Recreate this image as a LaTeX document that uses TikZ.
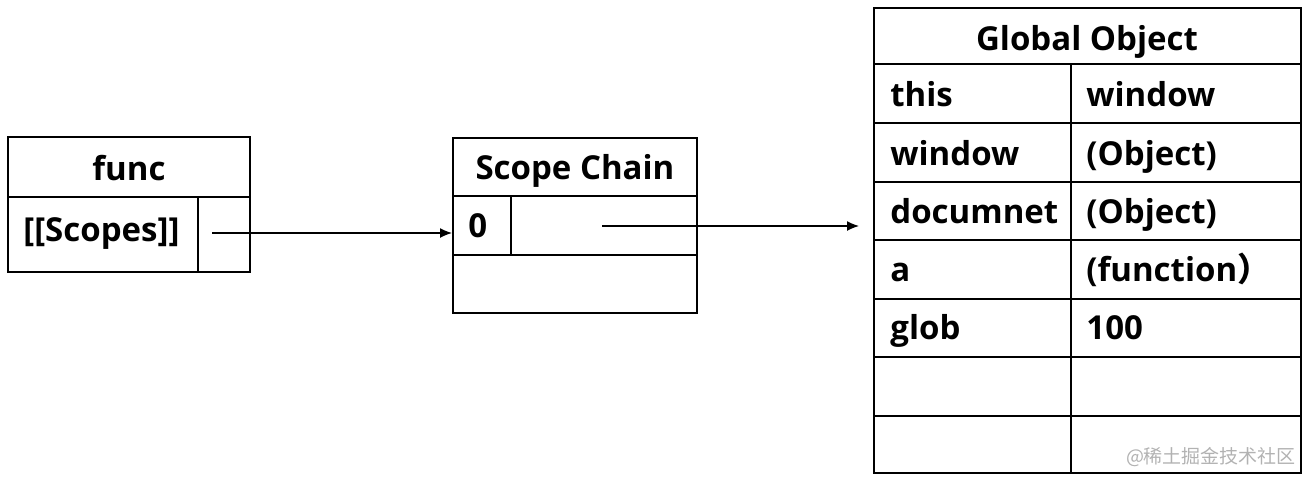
\documentclass[tikz,border=0pt]{standalone}
\usepackage{fontspec}
\setmainfont{Open Sans}
\newfontfamily\cjk{Noto Sans CJK SC}
\usetikzlibrary{arrows.meta}
\tikzset{
	box/.style={line width=1pt},
	cell/.style={anchor=base west, inner sep=0pt, font=\fontsize{16.5}{20}\selectfont\bfseries},
	title/.style={anchor=base, inner sep=0pt, font=\fontsize{16.5}{20}\selectfont\bfseries},
	ptr/.style={line width=0.65pt, -{Latex[length=6pt,width=5pt]}},
	watermark/.style={inner sep=0pt, text=black!30, font=\cjk\fontsize{9.5}{11}\selectfont},
}

\begin{document}
\begin{tikzpicture}[x=0.5pt,y=-0.5pt]
		%%%%% START %%%%%
		\useasboundingbox (0,0) rectangle (1308,483);
		
		% func
		\draw[box] (8,137) rectangle (250,272);
		\draw[box] (8,197) -- (250,197);
		\draw[box] (198,197) -- (198,272);
		\node[title] (func) at (129,180) {func};
		\node[cell] (scopes) at (23,241) {[[Scopes]]};
		\coordinate (funcptr) at (212,233);
		
		% scope chain
		\draw[box] (453,138) rectangle (697,313);
		\draw[box] (453,196) -- (697,196);
		\draw[box] (453,255) -- (697,255);
		\draw[box] (511,196) -- (511,255);
		\node[title] (chain) at (575,179) {Scope Chain};
		\node[cell] (chain0) at (468,237) {0};
		\coordinate (chainin) at (452,233);
		\coordinate (chainptr) at (602,226);
		
		% global object
		\draw[box] (874,8) rectangle (1301,473);
		\foreach \y in {64,123,182,240,299,357,416}
			\draw[box] (874,\y) -- (1301,\y);
		\draw[box] (1071,64) -- (1071,473);
		\node[title] (global) at (1087,50) {Global Object};
		\foreach \key/\val [count=\i from 0] in {this/window, window/(Object), documnet/(Object), a/{(function{\cjk ）}}, glob/100}{
			\node[cell] (key\i) at (890,{106.7+58.3*\i}) {\key};
			\node[cell] (val\i) at (1086,{106.7+58.3*\i}) {\val};
		}
		\coordinate (globalin) at (859,226);
		
		\draw[ptr] (funcptr) -- (chainin);
		\draw[ptr] (chainptr) -- (globalin);
		
		\node[watermark] (mark) at (1211,457) {@稀土掘金技术社区};
		%%%%% END %%%%%
\end{tikzpicture}
\end{document}
